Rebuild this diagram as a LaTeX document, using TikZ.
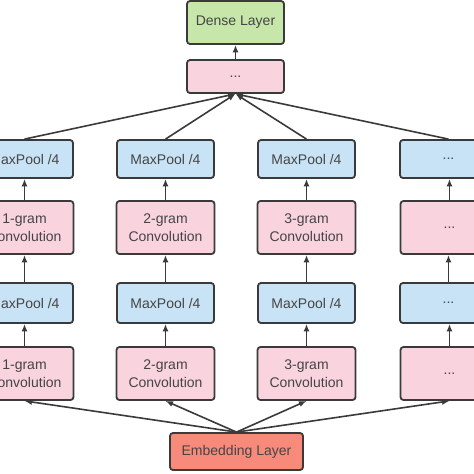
\documentclass[tikz,border=0pt]{standalone}
\usepackage{fontspec}
\setmainfont{Liberation Sans}
\usetikzlibrary{arrows.meta}

\definecolor{boxline}{HTML}{3A3A3A}
\definecolor{textgray}{HTML}{454545}
\definecolor{densegreen}{HTML}{C7E6A9}
\definecolor{convpink}{HTML}{F9D3DE}
\definecolor{poolblue}{HTML}{C8E3F5}
\definecolor{embedred}{HTML}{F88A7B}

\tikzset{
  box/.style={draw=boxline, line width=1.8pt, rounded corners=3pt, inner sep=0pt,
    align=center, text=textgray, font=\fontsize{14}{17.5}\selectfont},
  pool/.style={box, fill=poolblue, minimum width=97pt, minimum height=38pt},
  conv/.style={box, fill=convpink, minimum width=98pt, minimum height=53pt},
  link/.style={draw=boxline, line width=1.6pt, -{Latex[length=7.5pt,width=6pt]}}
}

\begin{document}
\begin{tikzpicture}[x=1pt, y=-1pt]
            \useasboundingbox (0,0) rectangle (474,474);

            % top
            \node[box, fill=densegreen, minimum width=97pt, minimum height=43pt] (dense) at (235.5,22.5) {Dense Layer};
            \node[box, fill=convpink, minimum width=97pt, minimum height=33pt] (merge) at (235.5,76.5) {...};

            % upper pooling row
            \node[pool] (poolA1) at (24.5,159) {MaxPool /4};
            \node[pool] (poolA2) at (165.5,159) {MaxPool /4};
            \node[pool] (poolA3) at (306.5,159) {MaxPool /4};
            \node[pool] (poolA4) at (448.5,159) {...};

            % upper convolution row
            \node[conv] (convA1) at (24.5,227.5) {1-gram\\Convolution};
            \node[conv] (convA2) at (165.5,227.5) {2-gram\\Convolution};
            \node[conv] (convA3) at (306.5,227.5) {3-gram\\Convolution};
            \node[conv] (convA4) at (449.5,227.5) {...};

            % lower pooling row
            \node[pool, minimum height=40pt] (poolB1) at (24.5,303) {MaxPool /4};
            \node[pool, minimum height=40pt] (poolB2) at (165.5,303) {MaxPool /4};
            \node[pool, minimum height=40pt] (poolB3) at (306.5,303) {MaxPool /4};
            \node[pool, minimum height=40pt] (poolB4) at (448.5,303) {...};

            % lower convolution row
            \node[conv] (convB1) at (24.5,373.5) {1-gram\\Convolution};
            \node[conv] (convB2) at (165.5,373.5) {2-gram\\Convolution};
            \node[conv] (convB3) at (306.5,373.5) {3-gram\\Convolution};
            \node[conv] (convB4) at (449.5,373.5) {...};

            \node[box, fill=embedred, minimum width=133pt, minimum height=37pt] (embed) at (236.5,451.5) {Embedding Layer};

            % connectors
            \draw[link] (merge) -- (dense);
            \draw[link] (poolA1.north) -- (merge.south);
            \draw[link] (poolA2.north) -- (merge.south);
            \draw[link] (poolA3.north) -- (merge.south);
            \draw[link] (poolA4.north) -- (merge.south);

            \draw[link] (convA1) -- (poolA1);
            \draw[link] (convA2) -- (poolA2);
            \draw[link] (convA3) -- (poolA3);
            \draw[link] (convA4.north) -- (convA4.north |- poolA4.south);

            \draw[link] (poolB1) -- (convA1);
            \draw[link] (poolB2) -- (convA2);
            \draw[link] (poolB3) -- (convA3);
            \draw[link] (poolB4.north) -- (poolB4.north |- convA4.south);

            \draw[link] (convB1) -- (poolB1);
            \draw[link] (convB2) -- (poolB2);
            \draw[link] (convB3) -- (poolB3);
            \draw[link] (convB4.north) -- (convB4.north |- poolB4.south);

            \draw[link] (embed.north) -- (convB1.south);
            \draw[link] (embed.north) -- (convB2.south);
            \draw[link] (embed.north) -- (convB3.south);
            \draw[link] (embed.north) -- (convB4.south);
        \end{tikzpicture}
\end{document}
